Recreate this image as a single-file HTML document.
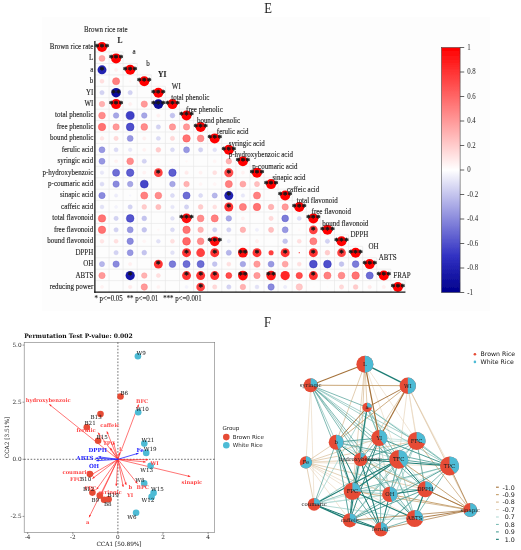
<!DOCTYPE html>
<html lang="en"><head><meta charset="utf-8"><title>Figure E F</title>
<style>html,body{margin:0;padding:0;background:#fff}svg{display:block}</style></head>
<body>
<svg width="521" height="550" viewBox="0 0 521 550">
<defs><filter id="bl" x="-2%" y="-2%" width="104%" height="104%"><feGaussianBlur stdDeviation="0.42"/></filter><filter id="bl2" x="-2%" y="-2%" width="104%" height="104%"><feGaussianBlur stdDeviation="0.28"/></filter></defs>
<rect x="0" y="0" width="521" height="550" fill="#fff"/>
<rect x="42" y="17" width="448" height="294" fill="#fdfdfd"/>
<g id="matrix" filter="url(#bl)">
<path d="M94.95 40.58H109.05 M94.95 52.01H123.14 M94.95 63.44H137.22 M94.95 74.88H151.31 M94.95 86.30H165.41 M94.95 97.73H179.50 M94.95 109.16H193.58 M94.95 120.59H207.68 M94.95 132.02H221.76 M94.95 143.45H235.86 M94.95 154.88H249.94 M94.95 166.31H264.04 M94.95 177.75H278.12 M94.95 189.18H292.21 M94.95 200.60H306.31 M94.95 212.03H320.39 M94.95 223.46H334.49 M94.95 234.89H348.57 M94.95 246.32H362.67 M94.95 257.75H376.75 M94.95 269.19H390.85 M94.95 280.62H404.94 M109.05 40.58V292.04 M123.13 52.01V292.04 M137.22 63.44V292.04 M151.31 74.88V292.04 M165.41 86.30V292.04 M179.50 97.73V292.04 M193.58 109.16V292.04 M207.68 120.59V292.04 M221.76 132.02V292.04 M235.86 143.45V292.04 M249.94 154.88V292.04 M264.03 166.31V292.04 M278.12 177.75V292.04 M292.21 189.18V292.04 M306.31 200.60V292.04 M320.39 212.03V292.04 M334.49 223.46V292.04 M348.57 234.89V292.04 M362.66 246.32V292.04 M376.75 257.75V292.04 M390.84 269.19V292.04 M404.94 280.62V292.04" stroke="#e6e6e6" stroke-width="0.6" fill="none"/>
<circle cx="102.00" cy="46.95" r="5.00" fill="rgb(255,0,0)"/>
<circle cx="102.00" cy="58.38" r="2.96" fill="rgb(255,166,166)" stroke="rgb(255,143,143)" stroke-width="0.5"/>
<circle cx="116.09" cy="58.38" r="5.00" fill="rgb(255,0,0)"/>
<circle cx="102.00" cy="69.81" r="4.47" fill="rgb(33,33,177)"/>
<circle cx="116.09" cy="69.81" r="1.64" fill="rgb(255,240,240)" stroke="rgb(255,236,236)" stroke-width="0.5"/>
<circle cx="130.18" cy="69.81" r="5.00" fill="rgb(255,0,0)"/>
<circle cx="102.00" cy="81.24" r="1.97" fill="rgb(255,224,224)" stroke="rgb(255,217,217)" stroke-width="0.5"/>
<circle cx="116.09" cy="81.24" r="3.54" fill="rgb(255,128,128)" stroke="rgb(255,96,96)" stroke-width="0.5"/>
<circle cx="130.18" cy="81.24" r="0.87" fill="rgb(255,247,247)" stroke="rgb(255,245,245)" stroke-width="0.5"/>
<circle cx="144.27" cy="81.24" r="5.00" fill="rgb(255,0,0)"/>
<circle cx="102.00" cy="92.67" r="2.12" fill="rgb(211,211,242)" stroke="rgb(200,200,239)" stroke-width="0.5"/>
<circle cx="116.09" cy="92.67" r="4.74" fill="rgb(17,17,158)"/>
<circle cx="130.18" cy="92.67" r="2.12" fill="rgb(211,211,242)" stroke="rgb(200,200,239)" stroke-width="0.5"/>
<circle cx="158.36" cy="92.67" r="5.00" fill="rgb(255,0,0)"/>
<circle cx="102.00" cy="104.10" r="2.74" fill="rgb(255,178,178)" stroke="rgb(255,159,159)" stroke-width="0.5"/>
<circle cx="116.09" cy="104.10" r="5.00" fill="rgb(255,0,0)"/>
<circle cx="130.18" cy="104.10" r="1.64" fill="rgb(255,240,240)" stroke="rgb(255,236,236)" stroke-width="0.5"/>
<circle cx="144.27" cy="104.10" r="3.16" fill="rgb(255,153,153)" stroke="rgb(255,128,128)" stroke-width="0.5"/>
<circle cx="158.36" cy="104.10" r="4.87" fill="rgb(8,8,149)"/>
<circle cx="172.45" cy="104.10" r="5.00" fill="rgb(255,0,0)"/>
<circle cx="102.00" cy="115.53" r="3.35" fill="rgb(255,140,140)" stroke="rgb(255,112,112)" stroke-width="0.5"/>
<circle cx="116.09" cy="115.53" r="2.74" fill="rgb(167,167,229)" stroke="rgb(145,145,223)" stroke-width="0.5"/>
<circle cx="130.18" cy="115.53" r="4.03" fill="rgb(65,65,199)" stroke="rgb(31,31,174)" stroke-width="0.5"/>
<circle cx="144.27" cy="115.53" r="2.74" fill="rgb(167,167,229)" stroke="rgb(145,145,223)" stroke-width="0.5"/>
<circle cx="158.36" cy="115.53" r="1.64" fill="rgb(255,240,240)" stroke="rgb(255,236,236)" stroke-width="0.5"/>
<circle cx="172.45" cy="115.53" r="2.35" fill="rgb(196,196,238)" stroke="rgb(182,182,234)" stroke-width="0.5"/>
<circle cx="186.54" cy="115.53" r="5.00" fill="rgb(255,0,0)"/>
<circle cx="102.00" cy="126.96" r="3.71" fill="rgb(255,115,115)" stroke="rgb(255,80,80)" stroke-width="0.5"/>
<circle cx="116.09" cy="126.96" r="3.16" fill="rgb(255,153,153)" stroke="rgb(255,128,128)" stroke-width="0.5"/>
<circle cx="130.18" cy="126.96" r="3.87" fill="rgb(79,79,204)" stroke="rgb(42,42,186)" stroke-width="0.5"/>
<circle cx="144.27" cy="126.96" r="3.35" fill="rgb(255,140,140)" stroke="rgb(255,112,112)" stroke-width="0.5"/>
<circle cx="158.36" cy="126.96" r="2.12" fill="rgb(211,211,242)" stroke="rgb(200,200,239)" stroke-width="0.5"/>
<circle cx="172.45" cy="126.96" r="3.16" fill="rgb(255,153,153)" stroke="rgb(255,128,128)" stroke-width="0.5"/>
<circle cx="186.54" cy="126.96" r="3.16" fill="rgb(255,153,153)" stroke="rgb(255,128,128)" stroke-width="0.5"/>
<circle cx="200.63" cy="126.96" r="5.00" fill="rgb(255,0,0)"/>
<circle cx="102.00" cy="138.39" r="1.87" fill="rgb(255,230,230)" stroke="rgb(255,223,223)" stroke-width="0.5"/>
<circle cx="116.09" cy="138.39" r="2.12" fill="rgb(255,217,217)" stroke="rgb(255,207,207)" stroke-width="0.5"/>
<circle cx="130.18" cy="138.39" r="2.96" fill="rgb(152,152,225)" stroke="rgb(127,127,218)" stroke-width="0.5"/>
<circle cx="144.27" cy="138.39" r="1.64" fill="rgb(255,240,240)" stroke="rgb(255,236,236)" stroke-width="0.5"/>
<circle cx="158.36" cy="138.39" r="1.97" fill="rgb(220,220,245)" stroke="rgb(211,211,242)" stroke-width="0.5"/>
<circle cx="172.45" cy="138.39" r="2.12" fill="rgb(255,217,217)" stroke="rgb(255,207,207)" stroke-width="0.5"/>
<circle cx="186.54" cy="138.39" r="3.71" fill="rgb(255,115,115)" stroke="rgb(255,80,80)" stroke-width="0.5"/>
<circle cx="200.63" cy="138.39" r="3.35" fill="rgb(255,140,140)" stroke="rgb(255,112,112)" stroke-width="0.5"/>
<circle cx="214.72" cy="138.39" r="5.00" fill="rgb(255,0,0)"/>
<circle cx="102.00" cy="149.82" r="2.96" fill="rgb(152,152,225)" stroke="rgb(127,127,218)" stroke-width="0.5"/>
<circle cx="116.09" cy="149.82" r="1.97" fill="rgb(220,220,245)" stroke="rgb(211,211,242)" stroke-width="0.5"/>
<circle cx="130.18" cy="149.82" r="1.76" fill="rgb(232,232,248)" stroke="rgb(226,226,246)" stroke-width="0.5"/>
<circle cx="144.27" cy="149.82" r="1.58" fill="rgb(255,242,242)" stroke="rgb(255,239,239)" stroke-width="0.5"/>
<circle cx="158.36" cy="149.82" r="2.35" fill="rgb(255,204,204)" stroke="rgb(255,191,191)" stroke-width="0.5"/>
<circle cx="172.45" cy="149.82" r="1.97" fill="rgb(220,220,245)" stroke="rgb(211,211,242)" stroke-width="0.5"/>
<circle cx="186.54" cy="149.82" r="2.96" fill="rgb(152,152,225)" stroke="rgb(127,127,218)" stroke-width="0.5"/>
<circle cx="200.63" cy="149.82" r="2.12" fill="rgb(211,211,242)" stroke="rgb(200,200,239)" stroke-width="0.5"/>
<circle cx="214.72" cy="149.82" r="1.87" fill="rgb(226,226,246)" stroke="rgb(218,218,244)" stroke-width="0.5"/>
<circle cx="228.81" cy="149.82" r="5.00" fill="rgb(255,0,0)"/>
<circle cx="102.00" cy="161.25" r="2.96" fill="rgb(152,152,225)" stroke="rgb(127,127,218)" stroke-width="0.5"/>
<circle cx="116.09" cy="161.25" r="1.58" fill="rgb(255,242,242)" stroke="rgb(255,239,239)" stroke-width="0.5"/>
<circle cx="130.18" cy="161.25" r="3.35" fill="rgb(255,140,140)" stroke="rgb(255,112,112)" stroke-width="0.5"/>
<circle cx="144.27" cy="161.25" r="2.12" fill="rgb(211,211,242)" stroke="rgb(200,200,239)" stroke-width="0.5"/>
<circle cx="158.36" cy="161.25" r="0.87" fill="rgb(255,247,247)" stroke="rgb(255,245,245)" stroke-width="0.5"/>
<circle cx="172.45" cy="161.25" r="0.87" fill="rgb(255,247,247)" stroke="rgb(255,245,245)" stroke-width="0.5"/>
<circle cx="186.54" cy="161.25" r="0.87" fill="rgb(255,247,247)" stroke="rgb(255,245,245)" stroke-width="0.5"/>
<circle cx="214.72" cy="161.25" r="1.52" fill="rgb(255,245,245)" stroke="rgb(255,242,242)" stroke-width="0.5"/>
<circle cx="228.81" cy="161.25" r="2.74" fill="rgb(255,178,178)" stroke="rgb(255,159,159)" stroke-width="0.5"/>
<circle cx="242.90" cy="161.25" r="5.00" fill="rgb(255,0,0)"/>
<circle cx="102.00" cy="172.68" r="1.76" fill="rgb(232,232,248)" stroke="rgb(226,226,246)" stroke-width="0.5"/>
<circle cx="116.09" cy="172.68" r="3.54" fill="rgb(109,109,212)" stroke="rgb(72,72,201)" stroke-width="0.5"/>
<circle cx="130.18" cy="172.68" r="3.71" fill="rgb(94,94,208)" stroke="rgb(54,54,196)" stroke-width="0.5"/>
<circle cx="144.27" cy="172.68" r="1.58" fill="rgb(255,242,242)" stroke="rgb(255,239,239)" stroke-width="0.5"/>
<circle cx="158.36" cy="172.68" r="4.33" fill="rgb(255,64,64)"/>
<circle cx="172.45" cy="172.68" r="3.71" fill="rgb(94,94,208)" stroke="rgb(54,54,196)" stroke-width="0.5"/>
<circle cx="186.54" cy="172.68" r="1.76" fill="rgb(255,235,235)" stroke="rgb(255,230,230)" stroke-width="0.5"/>
<circle cx="200.63" cy="172.68" r="1.58" fill="rgb(255,242,242)" stroke="rgb(255,239,239)" stroke-width="0.5"/>
<circle cx="214.72" cy="172.68" r="1.97" fill="rgb(255,224,224)" stroke="rgb(255,217,217)" stroke-width="0.5"/>
<circle cx="228.81" cy="172.68" r="4.18" fill="rgb(255,77,77)" stroke="rgb(255,32,32)" stroke-width="0.5"/>
<circle cx="242.90" cy="172.68" r="1.58" fill="rgb(255,242,242)" stroke="rgb(255,239,239)" stroke-width="0.5"/>
<circle cx="256.99" cy="172.68" r="5.00" fill="rgb(255,0,0)"/>
<circle cx="102.00" cy="184.11" r="1.97" fill="rgb(220,220,245)" stroke="rgb(211,211,242)" stroke-width="0.5"/>
<circle cx="116.09" cy="184.11" r="3.16" fill="rgb(138,138,221)" stroke="rgb(109,109,212)" stroke-width="0.5"/>
<circle cx="130.18" cy="184.11" r="2.74" fill="rgb(167,167,229)" stroke="rgb(145,145,223)" stroke-width="0.5"/>
<circle cx="144.27" cy="184.11" r="3.97" fill="rgb(70,70,201)" stroke="rgb(35,35,179)" stroke-width="0.5"/>
<circle cx="172.45" cy="184.11" r="2.74" fill="rgb(167,167,229)" stroke="rgb(145,145,223)" stroke-width="0.5"/>
<circle cx="186.54" cy="184.11" r="2.74" fill="rgb(255,178,178)" stroke="rgb(255,159,159)" stroke-width="0.5"/>
<circle cx="200.63" cy="184.11" r="1.52" fill="rgb(255,245,245)" stroke="rgb(255,242,242)" stroke-width="0.5"/>
<circle cx="214.72" cy="184.11" r="1.52" fill="rgb(255,245,245)" stroke="rgb(255,242,242)" stroke-width="0.5"/>
<circle cx="228.81" cy="184.11" r="3.54" fill="rgb(255,128,128)" stroke="rgb(255,96,96)" stroke-width="0.5"/>
<circle cx="242.90" cy="184.11" r="2.96" fill="rgb(255,166,166)" stroke="rgb(255,143,143)" stroke-width="0.5"/>
<circle cx="256.99" cy="184.11" r="2.55" fill="rgb(255,191,191)" stroke="rgb(255,175,175)" stroke-width="0.5"/>
<circle cx="271.08" cy="184.11" r="5.00" fill="rgb(255,0,0)"/>
<circle cx="102.00" cy="195.54" r="3.16" fill="rgb(138,138,221)" stroke="rgb(109,109,212)" stroke-width="0.5"/>
<circle cx="116.09" cy="195.54" r="1.64" fill="rgb(237,237,250)" stroke="rgb(233,233,249)" stroke-width="0.5"/>
<circle cx="130.18" cy="195.54" r="0.87" fill="rgb(246,246,252)" stroke="rgb(244,244,252)" stroke-width="0.5"/>
<circle cx="144.27" cy="195.54" r="3.54" fill="rgb(255,128,128)" stroke="rgb(255,96,96)" stroke-width="0.5"/>
<circle cx="158.36" cy="195.54" r="3.35" fill="rgb(255,140,140)" stroke="rgb(255,112,112)" stroke-width="0.5"/>
<circle cx="172.45" cy="195.54" r="1.97" fill="rgb(220,220,245)" stroke="rgb(211,211,242)" stroke-width="0.5"/>
<circle cx="186.54" cy="195.54" r="3.54" fill="rgb(109,109,212)" stroke="rgb(72,72,201)" stroke-width="0.5"/>
<circle cx="200.63" cy="195.54" r="1.97" fill="rgb(220,220,245)" stroke="rgb(211,211,242)" stroke-width="0.5"/>
<circle cx="214.72" cy="195.54" r="2.55" fill="rgb(182,182,234)" stroke="rgb(163,163,228)" stroke-width="0.5"/>
<circle cx="228.81" cy="195.54" r="4.47" fill="rgb(33,33,177)"/>
<circle cx="242.90" cy="195.54" r="1.76" fill="rgb(232,232,248)" stroke="rgb(226,226,246)" stroke-width="0.5"/>
<circle cx="256.99" cy="195.54" r="3.54" fill="rgb(255,128,128)" stroke="rgb(255,96,96)" stroke-width="0.5"/>
<circle cx="271.08" cy="195.54" r="0.71" fill="rgb(255,250,250)" stroke="rgb(255,249,249)" stroke-width="0.5"/>
<circle cx="285.17" cy="195.54" r="5.00" fill="rgb(255,0,0)"/>
<circle cx="102.00" cy="206.97" r="1.87" fill="rgb(226,226,246)" stroke="rgb(218,218,244)" stroke-width="0.5"/>
<circle cx="116.09" cy="206.97" r="1.52" fill="rgb(243,243,252)" stroke="rgb(240,240,251)" stroke-width="0.5"/>
<circle cx="130.18" cy="206.97" r="2.12" fill="rgb(211,211,242)" stroke="rgb(200,200,239)" stroke-width="0.5"/>
<circle cx="144.27" cy="206.97" r="2.35" fill="rgb(255,204,204)" stroke="rgb(255,191,191)" stroke-width="0.5"/>
<circle cx="158.36" cy="206.97" r="2.55" fill="rgb(255,191,191)" stroke="rgb(255,175,175)" stroke-width="0.5"/>
<circle cx="172.45" cy="206.97" r="1.76" fill="rgb(232,232,248)" stroke="rgb(226,226,246)" stroke-width="0.5"/>
<circle cx="186.54" cy="206.97" r="2.12" fill="rgb(211,211,242)" stroke="rgb(200,200,239)" stroke-width="0.5"/>
<circle cx="200.63" cy="206.97" r="2.35" fill="rgb(255,204,204)" stroke="rgb(255,191,191)" stroke-width="0.5"/>
<circle cx="214.72" cy="206.97" r="1.97" fill="rgb(255,224,224)" stroke="rgb(255,217,217)" stroke-width="0.5"/>
<circle cx="228.81" cy="206.97" r="4.47" fill="rgb(255,51,51)"/>
<circle cx="242.90" cy="206.97" r="3.54" fill="rgb(255,128,128)" stroke="rgb(255,96,96)" stroke-width="0.5"/>
<circle cx="256.99" cy="206.97" r="3.71" fill="rgb(255,115,115)" stroke="rgb(255,80,80)" stroke-width="0.5"/>
<circle cx="271.08" cy="206.97" r="2.74" fill="rgb(255,178,178)" stroke="rgb(255,159,159)" stroke-width="0.5"/>
<circle cx="285.17" cy="206.97" r="3.16" fill="rgb(255,153,153)" stroke="rgb(255,128,128)" stroke-width="0.5"/>
<circle cx="299.26" cy="206.97" r="5.00" fill="rgb(255,0,0)"/>
<circle cx="102.00" cy="218.40" r="3.71" fill="rgb(255,115,115)" stroke="rgb(255,80,80)" stroke-width="0.5"/>
<circle cx="116.09" cy="218.40" r="2.12" fill="rgb(211,211,242)" stroke="rgb(200,200,239)" stroke-width="0.5"/>
<circle cx="130.18" cy="218.40" r="3.81" fill="rgb(85,85,205)" stroke="rgb(46,46,190)" stroke-width="0.5"/>
<circle cx="144.27" cy="218.40" r="2.35" fill="rgb(196,196,238)" stroke="rgb(182,182,234)" stroke-width="0.5"/>
<circle cx="172.45" cy="218.40" r="1.87" fill="rgb(226,226,246)" stroke="rgb(218,218,244)" stroke-width="0.5"/>
<circle cx="186.54" cy="218.40" r="4.87" fill="rgb(255,13,13)"/>
<circle cx="200.63" cy="218.40" r="3.35" fill="rgb(255,140,140)" stroke="rgb(255,112,112)" stroke-width="0.5"/>
<circle cx="214.72" cy="218.40" r="3.54" fill="rgb(255,128,128)" stroke="rgb(255,96,96)" stroke-width="0.5"/>
<circle cx="228.81" cy="218.40" r="2.74" fill="rgb(167,167,229)" stroke="rgb(145,145,223)" stroke-width="0.5"/>
<circle cx="242.90" cy="218.40" r="1.58" fill="rgb(255,242,242)" stroke="rgb(255,239,239)" stroke-width="0.5"/>
<circle cx="271.08" cy="218.40" r="2.12" fill="rgb(255,217,217)" stroke="rgb(255,207,207)" stroke-width="0.5"/>
<circle cx="285.17" cy="218.40" r="3.35" fill="rgb(123,123,216)" stroke="rgb(90,90,207)" stroke-width="0.5"/>
<circle cx="299.26" cy="218.40" r="1.97" fill="rgb(220,220,245)" stroke="rgb(211,211,242)" stroke-width="0.5"/>
<circle cx="313.35" cy="218.40" r="5.00" fill="rgb(255,0,0)"/>
<circle cx="102.00" cy="229.83" r="3.71" fill="rgb(255,115,115)" stroke="rgb(255,80,80)" stroke-width="0.5"/>
<circle cx="116.09" cy="229.83" r="2.12" fill="rgb(211,211,242)" stroke="rgb(200,200,239)" stroke-width="0.5"/>
<circle cx="130.18" cy="229.83" r="2.96" fill="rgb(152,152,225)" stroke="rgb(127,127,218)" stroke-width="0.5"/>
<circle cx="144.27" cy="229.83" r="2.35" fill="rgb(196,196,238)" stroke="rgb(182,182,234)" stroke-width="0.5"/>
<circle cx="158.36" cy="229.83" r="0.87" fill="rgb(255,247,247)" stroke="rgb(255,245,245)" stroke-width="0.5"/>
<circle cx="172.45" cy="229.83" r="1.97" fill="rgb(220,220,245)" stroke="rgb(211,211,242)" stroke-width="0.5"/>
<circle cx="186.54" cy="229.83" r="3.71" fill="rgb(255,115,115)" stroke="rgb(255,80,80)" stroke-width="0.5"/>
<circle cx="200.63" cy="229.83" r="2.74" fill="rgb(255,178,178)" stroke="rgb(255,159,159)" stroke-width="0.5"/>
<circle cx="214.72" cy="229.83" r="2.12" fill="rgb(211,211,242)" stroke="rgb(200,200,239)" stroke-width="0.5"/>
<circle cx="228.81" cy="229.83" r="2.12" fill="rgb(211,211,242)" stroke="rgb(200,200,239)" stroke-width="0.5"/>
<circle cx="242.90" cy="229.83" r="2.74" fill="rgb(255,178,178)" stroke="rgb(255,159,159)" stroke-width="0.5"/>
<circle cx="256.99" cy="229.83" r="1.58" fill="rgb(240,240,251)" stroke="rgb(237,237,250)" stroke-width="0.5"/>
<circle cx="271.08" cy="229.83" r="2.55" fill="rgb(255,191,191)" stroke="rgb(255,175,175)" stroke-width="0.5"/>
<circle cx="285.17" cy="229.83" r="2.96" fill="rgb(152,152,225)" stroke="rgb(127,127,218)" stroke-width="0.5"/>
<circle cx="299.26" cy="229.83" r="0.87" fill="rgb(255,247,247)" stroke="rgb(255,245,245)" stroke-width="0.5"/>
<circle cx="313.35" cy="229.83" r="4.33" fill="rgb(255,64,64)"/>
<circle cx="327.44" cy="229.83" r="5.00" fill="rgb(255,0,0)"/>
<circle cx="102.00" cy="241.26" r="1.87" fill="rgb(255,230,230)" stroke="rgb(255,223,223)" stroke-width="0.5"/>
<circle cx="116.09" cy="241.26" r="1.97" fill="rgb(255,224,224)" stroke="rgb(255,217,217)" stroke-width="0.5"/>
<circle cx="130.18" cy="241.26" r="3.16" fill="rgb(138,138,221)" stroke="rgb(109,109,212)" stroke-width="0.5"/>
<circle cx="144.27" cy="241.26" r="1.52" fill="rgb(255,245,245)" stroke="rgb(255,242,242)" stroke-width="0.5"/>
<circle cx="158.36" cy="241.26" r="1.87" fill="rgb(226,226,246)" stroke="rgb(218,218,244)" stroke-width="0.5"/>
<circle cx="172.45" cy="241.26" r="1.97" fill="rgb(255,224,224)" stroke="rgb(255,217,217)" stroke-width="0.5"/>
<circle cx="186.54" cy="241.26" r="3.87" fill="rgb(255,102,102)" stroke="rgb(255,64,64)" stroke-width="0.5"/>
<circle cx="200.63" cy="241.26" r="3.35" fill="rgb(255,140,140)" stroke="rgb(255,112,112)" stroke-width="0.5"/>
<circle cx="214.72" cy="241.26" r="4.87" fill="rgb(255,13,13)"/>
<circle cx="228.81" cy="241.26" r="1.64" fill="rgb(237,237,250)" stroke="rgb(233,233,249)" stroke-width="0.5"/>
<circle cx="256.99" cy="241.26" r="1.64" fill="rgb(255,240,240)" stroke="rgb(255,236,236)" stroke-width="0.5"/>
<circle cx="285.17" cy="241.26" r="2.35" fill="rgb(196,196,238)" stroke="rgb(182,182,234)" stroke-width="0.5"/>
<circle cx="299.26" cy="241.26" r="1.97" fill="rgb(255,224,224)" stroke="rgb(255,217,217)" stroke-width="0.5"/>
<circle cx="313.35" cy="241.26" r="3.54" fill="rgb(255,128,128)" stroke="rgb(255,96,96)" stroke-width="0.5"/>
<circle cx="327.44" cy="241.26" r="2.12" fill="rgb(211,211,242)" stroke="rgb(200,200,239)" stroke-width="0.5"/>
<circle cx="341.53" cy="241.26" r="5.00" fill="rgb(255,0,0)"/>
<circle cx="116.09" cy="252.69" r="2.12" fill="rgb(211,211,242)" stroke="rgb(200,200,239)" stroke-width="0.5"/>
<circle cx="130.18" cy="252.69" r="2.96" fill="rgb(152,152,225)" stroke="rgb(127,127,218)" stroke-width="0.5"/>
<circle cx="144.27" cy="252.69" r="2.35" fill="rgb(196,196,238)" stroke="rgb(182,182,234)" stroke-width="0.5"/>
<circle cx="172.45" cy="252.69" r="1.87" fill="rgb(226,226,246)" stroke="rgb(218,218,244)" stroke-width="0.5"/>
<circle cx="186.54" cy="252.69" r="4.47" fill="rgb(255,51,51)"/>
<circle cx="200.63" cy="252.69" r="4.33" fill="rgb(255,64,64)"/>
<circle cx="214.72" cy="252.69" r="4.47" fill="rgb(255,51,51)"/>
<circle cx="228.81" cy="252.69" r="2.55" fill="rgb(182,182,234)" stroke="rgb(163,163,228)" stroke-width="0.5"/>
<circle cx="242.90" cy="252.69" r="4.87" fill="rgb(255,13,13)"/>
<circle cx="256.99" cy="252.69" r="4.47" fill="rgb(255,51,51)"/>
<circle cx="271.08" cy="252.69" r="2.55" fill="rgb(255,64,64)"/>
<circle cx="285.17" cy="252.69" r="4.47" fill="rgb(255,51,51)"/>
<circle cx="299.26" cy="252.69" r="0.61" fill="rgb(255,51,51)"/>
<circle cx="313.35" cy="252.69" r="4.47" fill="rgb(255,51,51)"/>
<circle cx="327.44" cy="252.69" r="2.35" fill="rgb(255,204,204)" stroke="rgb(255,191,191)" stroke-width="0.5"/>
<circle cx="341.53" cy="252.69" r="4.33" fill="rgb(255,64,64)"/>
<circle cx="355.62" cy="252.69" r="5.00" fill="rgb(255,0,0)"/>
<circle cx="102.00" cy="264.12" r="2.55" fill="rgb(182,182,234)" stroke="rgb(163,163,228)" stroke-width="0.5"/>
<circle cx="116.09" cy="264.12" r="3.16" fill="rgb(138,138,221)" stroke="rgb(109,109,212)" stroke-width="0.5"/>
<circle cx="130.18" cy="264.12" r="1.64" fill="rgb(255,240,240)" stroke="rgb(255,236,236)" stroke-width="0.5"/>
<circle cx="158.36" cy="264.12" r="4.47" fill="rgb(255,51,51)"/>
<circle cx="172.45" cy="264.12" r="3.35" fill="rgb(123,123,216)" stroke="rgb(90,90,207)" stroke-width="0.5"/>
<circle cx="186.54" cy="264.12" r="3.54" fill="rgb(109,109,212)" stroke="rgb(72,72,201)" stroke-width="0.5"/>
<circle cx="200.63" cy="264.12" r="3.54" fill="rgb(109,109,212)" stroke="rgb(72,72,201)" stroke-width="0.5"/>
<circle cx="214.72" cy="264.12" r="2.35" fill="rgb(196,196,238)" stroke="rgb(182,182,234)" stroke-width="0.5"/>
<circle cx="228.81" cy="264.12" r="1.97" fill="rgb(255,224,224)" stroke="rgb(255,217,217)" stroke-width="0.5"/>
<circle cx="242.90" cy="264.12" r="2.74" fill="rgb(167,167,229)" stroke="rgb(145,145,223)" stroke-width="0.5"/>
<circle cx="256.99" cy="264.12" r="3.16" fill="rgb(255,153,153)" stroke="rgb(255,128,128)" stroke-width="0.5"/>
<circle cx="271.08" cy="264.12" r="2.96" fill="rgb(152,152,225)" stroke="rgb(127,127,218)" stroke-width="0.5"/>
<circle cx="285.17" cy="264.12" r="2.96" fill="rgb(255,166,166)" stroke="rgb(255,143,143)" stroke-width="0.5"/>
<circle cx="299.26" cy="264.12" r="1.97" fill="rgb(255,224,224)" stroke="rgb(255,217,217)" stroke-width="0.5"/>
<circle cx="313.35" cy="264.12" r="3.87" fill="rgb(79,79,204)" stroke="rgb(42,42,186)" stroke-width="0.5"/>
<circle cx="327.44" cy="264.12" r="3.87" fill="rgb(79,79,204)" stroke="rgb(42,42,186)" stroke-width="0.5"/>
<circle cx="341.53" cy="264.12" r="2.35" fill="rgb(196,196,238)" stroke="rgb(182,182,234)" stroke-width="0.5"/>
<circle cx="355.62" cy="264.12" r="3.35" fill="rgb(123,123,216)" stroke="rgb(90,90,207)" stroke-width="0.5"/>
<circle cx="369.71" cy="264.12" r="5.00" fill="rgb(255,0,0)"/>
<circle cx="102.00" cy="275.55" r="3.16" fill="rgb(255,153,153)" stroke="rgb(255,128,128)" stroke-width="0.5"/>
<circle cx="130.18" cy="275.55" r="4.61" fill="rgb(25,25,168)"/>
<circle cx="144.27" cy="275.55" r="2.74" fill="rgb(255,178,178)" stroke="rgb(255,159,159)" stroke-width="0.5"/>
<circle cx="158.36" cy="275.55" r="1.97" fill="rgb(255,224,224)" stroke="rgb(255,217,217)" stroke-width="0.5"/>
<circle cx="186.54" cy="275.55" r="4.47" fill="rgb(255,51,51)"/>
<circle cx="200.63" cy="275.55" r="4.47" fill="rgb(255,51,51)"/>
<circle cx="214.72" cy="275.55" r="4.47" fill="rgb(255,51,51)"/>
<circle cx="228.81" cy="275.55" r="2.96" fill="rgb(255,77,77)" stroke="rgb(255,32,32)" stroke-width="0.5"/>
<circle cx="242.90" cy="275.55" r="4.87" fill="rgb(255,13,13)"/>
<circle cx="256.99" cy="275.55" r="3.16" fill="rgb(255,153,153)" stroke="rgb(255,128,128)" stroke-width="0.5"/>
<circle cx="271.08" cy="275.55" r="4.74" fill="rgb(255,25,25)"/>
<circle cx="285.17" cy="275.55" r="4.61" fill="rgb(255,38,38)"/>
<circle cx="299.26" cy="275.55" r="3.16" fill="rgb(255,77,77)" stroke="rgb(255,32,32)" stroke-width="0.5"/>
<circle cx="313.35" cy="275.55" r="4.47" fill="rgb(255,51,51)"/>
<circle cx="327.44" cy="275.55" r="3.54" fill="rgb(255,128,128)" stroke="rgb(255,96,96)" stroke-width="0.5"/>
<circle cx="341.53" cy="275.55" r="3.35" fill="rgb(255,140,140)" stroke="rgb(255,112,112)" stroke-width="0.5"/>
<circle cx="355.62" cy="275.55" r="3.71" fill="rgb(255,115,115)" stroke="rgb(255,80,80)" stroke-width="0.5"/>
<circle cx="369.71" cy="275.55" r="3.54" fill="rgb(109,109,212)" stroke="rgb(72,72,201)" stroke-width="0.5"/>
<circle cx="383.80" cy="275.55" r="5.00" fill="rgb(255,0,0)"/>
<circle cx="102.00" cy="286.98" r="1.58" fill="rgb(255,242,242)" stroke="rgb(255,239,239)" stroke-width="0.5"/>
<circle cx="130.18" cy="286.98" r="1.76" fill="rgb(255,235,235)" stroke="rgb(255,230,230)" stroke-width="0.5"/>
<circle cx="144.27" cy="286.98" r="3.16" fill="rgb(255,153,153)" stroke="rgb(255,128,128)" stroke-width="0.5"/>
<circle cx="158.36" cy="286.98" r="1.58" fill="rgb(255,242,242)" stroke="rgb(255,239,239)" stroke-width="0.5"/>
<circle cx="186.54" cy="286.98" r="1.52" fill="rgb(243,243,252)" stroke="rgb(240,240,251)" stroke-width="0.5"/>
<circle cx="200.63" cy="286.98" r="4.33" fill="rgb(255,64,64)"/>
<circle cx="214.72" cy="286.98" r="2.12" fill="rgb(255,217,217)" stroke="rgb(255,207,207)" stroke-width="0.5"/>
<circle cx="228.81" cy="286.98" r="2.12" fill="rgb(211,211,242)" stroke="rgb(200,200,239)" stroke-width="0.5"/>
<circle cx="242.90" cy="286.98" r="2.74" fill="rgb(255,178,178)" stroke="rgb(255,159,159)" stroke-width="0.5"/>
<circle cx="256.99" cy="286.98" r="1.87" fill="rgb(226,226,246)" stroke="rgb(218,218,244)" stroke-width="0.5"/>
<circle cx="271.08" cy="286.98" r="3.16" fill="rgb(138,138,221)" stroke="rgb(109,109,212)" stroke-width="0.5"/>
<circle cx="285.17" cy="286.98" r="1.64" fill="rgb(237,237,250)" stroke="rgb(233,233,249)" stroke-width="0.5"/>
<circle cx="299.26" cy="286.98" r="3.16" fill="rgb(255,199,199)" stroke="rgb(255,185,185)" stroke-width="0.5"/>
<circle cx="313.35" cy="286.98" r="0.71" fill="rgb(255,250,250)" stroke="rgb(255,249,249)" stroke-width="0.5"/>
<circle cx="327.44" cy="286.98" r="0.71" fill="rgb(255,250,250)" stroke="rgb(255,249,249)" stroke-width="0.5"/>
<circle cx="341.53" cy="286.98" r="2.12" fill="rgb(255,217,217)" stroke="rgb(255,207,207)" stroke-width="0.5"/>
<circle cx="355.62" cy="286.98" r="2.35" fill="rgb(255,204,204)" stroke="rgb(255,191,191)" stroke-width="0.5"/>
<circle cx="369.71" cy="286.98" r="1.76" fill="rgb(255,235,235)" stroke="rgb(255,230,230)" stroke-width="0.5"/>
<circle cx="383.80" cy="286.98" r="1.64" fill="rgb(255,240,240)" stroke="rgb(255,236,236)" stroke-width="0.5"/>
<circle cx="397.89" cy="286.98" r="5.00" fill="rgb(255,0,0)"/>
<g font-family="'Liberation Serif', serif" font-size="9" font-weight="bold" fill="#161616" stroke="#161616" stroke-width="0.35" stroke-linejoin="round" text-anchor="middle">
<text x="102.22" y="49.85" letter-spacing="0.45">***</text>
<text x="116.31" y="61.28" letter-spacing="0.45">***</text>
<text x="102.00" y="72.71" letter-spacing="0">*</text>
<text x="130.41" y="72.71" letter-spacing="0.45">***</text>
<text x="144.49" y="84.14" letter-spacing="0.45">***</text>
<text x="116.31" y="95.57" letter-spacing="0.45">**</text>
<text x="158.59" y="95.57" letter-spacing="0.45">***</text>
<text x="116.31" y="107.00" letter-spacing="0.45">***</text>
<text x="158.59" y="107.00" letter-spacing="0.45">***</text>
<text x="172.67" y="107.00" letter-spacing="0.45">***</text>
<text x="186.76" y="118.43" letter-spacing="0.45">***</text>
<text x="200.85" y="129.86" letter-spacing="0.45">***</text>
<text x="214.94" y="141.29" letter-spacing="0.45">***</text>
<text x="229.03" y="152.72" letter-spacing="0.45">***</text>
<text x="243.12" y="164.15" letter-spacing="0.45">***</text>
<text x="158.36" y="175.58" letter-spacing="0">*</text>
<text x="228.81" y="175.58" letter-spacing="0">*</text>
<text x="257.22" y="175.58" letter-spacing="0.45">***</text>
<text x="271.31" y="187.01" letter-spacing="0.45">***</text>
<text x="228.81" y="198.44" letter-spacing="0">*</text>
<text x="285.39" y="198.44" letter-spacing="0.45">***</text>
<text x="228.81" y="209.87" letter-spacing="0">*</text>
<text x="299.49" y="209.87" letter-spacing="0.45">***</text>
<text x="186.76" y="221.30" letter-spacing="0.45">***</text>
<text x="313.58" y="221.30" letter-spacing="0.45">***</text>
<text x="313.35" y="232.73" letter-spacing="0">*</text>
<text x="327.67" y="232.73" letter-spacing="0.45">***</text>
<text x="214.94" y="244.16" letter-spacing="0.45">***</text>
<text x="341.75" y="244.16" letter-spacing="0.45">***</text>
<text x="186.54" y="255.59" letter-spacing="0">*</text>
<text x="214.72" y="255.59" letter-spacing="0">*</text>
<text x="243.12" y="255.59" letter-spacing="0.45">**</text>
<text x="256.99" y="255.59" letter-spacing="0">*</text>
<text x="285.17" y="255.59" letter-spacing="0">*</text>
<text x="313.35" y="255.59" letter-spacing="0">*</text>
<text x="341.53" y="255.59" letter-spacing="0">*</text>
<text x="355.85" y="255.59" letter-spacing="0.45">***</text>
<text x="158.36" y="267.02" letter-spacing="0">*</text>
<text x="369.94" y="267.02" letter-spacing="0.45">***</text>
<text x="130.18" y="278.45" letter-spacing="0">*</text>
<text x="186.54" y="278.45" letter-spacing="0">*</text>
<text x="200.63" y="278.45" letter-spacing="0">*</text>
<text x="214.72" y="278.45" letter-spacing="0">*</text>
<text x="243.12" y="278.45" letter-spacing="0.45">**</text>
<text x="271.31" y="278.45" letter-spacing="0.45">**</text>
<text x="313.35" y="278.45" letter-spacing="0">*</text>
<text x="384.03" y="278.45" letter-spacing="0.45">***</text>
<text x="200.63" y="289.88" letter-spacing="0">*</text>
<text x="398.12" y="289.88" letter-spacing="0.45">***</text>
</g>
<path d="M94.86 41V292.74" stroke="#2a2a2a" stroke-width="1.4" fill="none"/>
<path d="M94.16 292.04H405.44" stroke="#111" stroke-width="1.3" fill="none"/>
<g font-family="'Liberation Serif', serif" fill="#222" stroke="#222" stroke-width="0.12">
<text transform="translate(93.30,48.90) scale(0.875,1)" text-anchor="end" font-size="8.0">Brown rice rate</text>
<text transform="translate(93.30,60.33) scale(0.875,1)" text-anchor="end" font-size="8.0">L</text>
<text transform="translate(93.30,71.76) scale(0.875,1)" text-anchor="end" font-size="8.0">a</text>
<text transform="translate(93.30,83.19) scale(0.875,1)" text-anchor="end" font-size="8.0">b</text>
<text transform="translate(93.30,94.62) scale(0.875,1)" text-anchor="end" font-size="8.0">YI</text>
<text transform="translate(93.30,106.05) scale(0.875,1)" text-anchor="end" font-size="8.0">WI</text>
<text transform="translate(93.30,117.48) scale(0.875,1)" text-anchor="end" font-size="8.0">total phenolic</text>
<text transform="translate(93.30,128.91) scale(0.875,1)" text-anchor="end" font-size="8.0">free phenolic</text>
<text transform="translate(93.30,140.34) scale(0.875,1)" text-anchor="end" font-size="8.0">bound phenolic</text>
<text transform="translate(93.30,151.77) scale(0.875,1)" text-anchor="end" font-size="8.0">ferulic acid</text>
<text transform="translate(93.30,163.20) scale(0.875,1)" text-anchor="end" font-size="8.0">syringic acid</text>
<text transform="translate(93.30,174.63) scale(0.875,1)" text-anchor="end" font-size="8.0">p-hydroxybenzoic</text>
<text transform="translate(93.30,186.06) scale(0.875,1)" text-anchor="end" font-size="8.0">p-coumaric acid</text>
<text transform="translate(93.30,197.49) scale(0.875,1)" text-anchor="end" font-size="8.0">sinapic acid</text>
<text transform="translate(93.30,208.92) scale(0.875,1)" text-anchor="end" font-size="8.0">caffeic acid</text>
<text transform="translate(93.30,220.35) scale(0.875,1)" text-anchor="end" font-size="8.0">total flavonoid</text>
<text transform="translate(93.30,231.78) scale(0.875,1)" text-anchor="end" font-size="8.0">free flavonoid</text>
<text transform="translate(93.30,243.21) scale(0.875,1)" text-anchor="end" font-size="8.0">bound flavonoid</text>
<text transform="translate(93.30,254.64) scale(0.875,1)" text-anchor="end" font-size="8.0">DPPH</text>
<text transform="translate(93.30,266.07) scale(0.875,1)" text-anchor="end" font-size="8.0">OH</text>
<text transform="translate(93.30,277.50) scale(0.875,1)" text-anchor="end" font-size="8.0">ABTS</text>
<text transform="translate(93.30,288.93) scale(0.875,1)" text-anchor="end" font-size="8.0">reducing power</text>
<text transform="translate(105.80,31.50) scale(0.875,1)" text-anchor="middle" font-size="8.0">Brown rice rate</text>
<text transform="translate(119.89,42.93) scale(0.875,1)" text-anchor="middle" font-size="8.6" font-weight="bold">L</text>
<text transform="translate(133.98,54.36) scale(0.875,1)" text-anchor="middle" font-size="8.0">a</text>
<text transform="translate(148.07,65.79) scale(0.875,1)" text-anchor="middle" font-size="8.0">b</text>
<text transform="translate(162.16,77.22) scale(0.875,1)" text-anchor="middle" font-size="8.6" font-weight="bold">YI</text>
<text transform="translate(176.25,88.65) scale(0.875,1)" text-anchor="middle" font-size="8.0">WI</text>
<text transform="translate(190.34,100.08) scale(0.875,1)" text-anchor="middle" font-size="8.0">total phenolic</text>
<text transform="translate(204.43,111.51) scale(0.875,1)" text-anchor="middle" font-size="8.0">free phenolic</text>
<text transform="translate(218.52,122.94) scale(0.875,1)" text-anchor="middle" font-size="8.0">bound phenolic</text>
<text transform="translate(232.61,134.37) scale(0.875,1)" text-anchor="middle" font-size="8.0">ferulic acid</text>
<text transform="translate(246.70,145.80) scale(0.875,1)" text-anchor="middle" font-size="8.0">syringic acid</text>
<text transform="translate(260.79,157.23) scale(0.875,1)" text-anchor="middle" font-size="8.0">p-hydroxybenzoic acid</text>
<text transform="translate(274.88,168.66) scale(0.875,1)" text-anchor="middle" font-size="8.0">p-coumaric acid</text>
<text transform="translate(288.97,180.09) scale(0.875,1)" text-anchor="middle" font-size="8.0">sinapic acid</text>
<text transform="translate(303.06,191.52) scale(0.875,1)" text-anchor="middle" font-size="8.0">caffeic acid</text>
<text transform="translate(317.15,202.95) scale(0.875,1)" text-anchor="middle" font-size="8.0">total flavonoid</text>
<text transform="translate(331.24,214.38) scale(0.875,1)" text-anchor="middle" font-size="8.0">free flavonoid</text>
<text transform="translate(345.33,225.81) scale(0.875,1)" text-anchor="middle" font-size="8.0">bound flavonoid</text>
<text transform="translate(359.42,237.24) scale(0.875,1)" text-anchor="middle" font-size="8.0">DPPH</text>
<text transform="translate(373.51,248.67) scale(0.875,1)" text-anchor="middle" font-size="8.0">OH</text>
<text transform="translate(387.60,260.10) scale(0.875,1)" text-anchor="middle" font-size="8.0">ABTS</text>
<text transform="translate(402.00,277.80) scale(0.875,1)" text-anchor="middle" font-size="8.0">FRAP</text>
<text transform="translate(94.50,300.70) scale(0.875,1)" text-anchor="start" font-size="7.8">* p&lt;=0.05</text>
<text transform="translate(126.70,300.70) scale(0.875,1)" text-anchor="start" font-size="7.8">** p&lt;=0.01</text>
<text transform="translate(163.30,300.70) scale(0.875,1)" text-anchor="start" font-size="7.8">*** p&lt;=0.001</text>
</g>
<defs><linearGradient id="cb" x1="0" y1="0" x2="0" y2="1"><stop offset="0" stop-color="rgb(255,0,0)"/><stop offset="0.5" stop-color="#fff"/><stop offset="0.85" stop-color="rgb(50,50,195)"/><stop offset="1" stop-color="rgb(0,0,140)"/></linearGradient></defs>
<rect x="441.5" y="47.5" width="18.6" height="245" fill="url(#cb)" stroke="#333" stroke-width="0.5"/>
<g font-family="'Liberation Serif', serif" fill="#222">
<text transform="translate(467.20,49.95) scale(0.94,1)" text-anchor="start" font-size="7.3">1</text>
<text transform="translate(467.20,74.45) scale(0.94,1)" text-anchor="start" font-size="7.3">0.8</text>
<text transform="translate(467.20,98.95) scale(0.94,1)" text-anchor="start" font-size="7.3">0.6</text>
<text transform="translate(467.20,123.45) scale(0.94,1)" text-anchor="start" font-size="7.3">0.4</text>
<text transform="translate(467.20,147.95) scale(0.94,1)" text-anchor="start" font-size="7.3">0.2</text>
<text transform="translate(467.20,172.45) scale(0.94,1)" text-anchor="start" font-size="7.3">0</text>
<text transform="translate(467.20,196.95) scale(0.94,1)" text-anchor="start" font-size="7.3">-0.2</text>
<text transform="translate(467.20,221.45) scale(0.94,1)" text-anchor="start" font-size="7.3">-0.4</text>
<text transform="translate(467.20,245.95) scale(0.94,1)" text-anchor="start" font-size="7.3">-0.6</text>
<text transform="translate(467.20,270.45) scale(0.94,1)" text-anchor="start" font-size="7.3">-0.8</text>
<text transform="translate(467.20,294.95) scale(0.94,1)" text-anchor="start" font-size="7.3">-1</text>
</g>
<path d="M460.1 47.50H464.2 M460.1 72.00H464.2 M460.1 96.50H464.2 M460.1 121.00H464.2 M460.1 145.50H464.2 M460.1 170.00H464.2 M460.1 194.50H464.2 M460.1 219.00H464.2 M460.1 243.50H464.2 M460.1 268.00H464.2 M460.1 292.50H464.2" stroke="#222" stroke-width="0.7" fill="none"/>
</g>
<g font-family="'Liberation Serif', serif" fill="#222">
<text transform="translate(268.00,13.40) scale(0.87,1)" text-anchor="middle" font-size="14.5">E</text>
<text transform="translate(267.60,326.90) scale(0.87,1)" text-anchor="middle" font-size="14.5">F</text>
</g>
<g id="cca" filter="url(#bl2)">
<rect x="24.2" y="342.3" width="190.50" height="190.10" fill="#fff" stroke="#7a7a7a" stroke-width="0.6"/>
<path d="M24.2 459.3H214.7M117.9 342.3V532.4" stroke="#333" stroke-width="0.7" stroke-dasharray="1.6 1.6" fill="none"/>
<g font-family="'DejaVu Serif', serif" font-size="5.75" fill="#2e2e2e">
<text x="27.70" y="539.40" text-anchor="middle">-4</text>
<text x="72.80" y="539.40" text-anchor="middle">-2</text>
<text x="117.90" y="539.40" text-anchor="middle">0</text>
<text x="163.00" y="539.40" text-anchor="middle">2</text>
<text x="208.10" y="539.40" text-anchor="middle">4</text>
<text x="21.60" y="347.15" text-anchor="end">5.0</text>
<text x="21.60" y="404.25" text-anchor="end">2.5</text>
<text x="21.60" y="461.35" text-anchor="end">0.0</text>
<text x="21.60" y="518.45" text-anchor="end">-2.5</text>
</g>
<path d="M27.70 532.4v1.6 M72.80 532.4v1.6 M117.90 532.4v1.6 M163.00 532.4v1.6 M208.10 532.4v1.6 M24.2 345.10h-1.6 M24.2 402.20h-1.6 M24.2 459.30h-1.6 M24.2 516.40h-1.6" stroke="#333" stroke-width="0.5" fill="none"/>
<g font-family="'DejaVu Serif', serif" fill="#111">
<text x="24.2" y="338.1" font-size="6.06" font-weight="bold">Permutation Test P-value: 0.002</text>
<text x="119" y="546.2" font-size="5.8" text-anchor="middle">CCA1 [50.89%]</text>
<text transform="translate(9.2,437.5) rotate(-90)" font-size="5.8" text-anchor="middle">CCA2 [3.51%]</text>
</g>
<path d="M117.9 459.3L49.2 404.3" stroke="#ff2a2a" stroke-width="0.65" fill="none"/>
<path d="M49.2 404.3L51.7 405.0L50.4 406.6Z" fill="#ff2a2a"/>
<path d="M117.9 459.3L89.1 517.3" stroke="#ff2a2a" stroke-width="0.65" fill="none"/>
<path d="M89.1 517.3L89.2 514.7L91.1 515.6Z" fill="#ff2a2a"/>
<path d="M117.9 459.3L91.1 474.9" stroke="#ff2a2a" stroke-width="0.65" fill="none"/>
<path d="M91.1 474.9L92.6 472.8L93.7 474.6Z" fill="#ff2a2a"/>
<path d="M117.9 459.3L92.4 478.6" stroke="#ff2a2a" stroke-width="0.65" fill="none"/>
<path d="M92.4 478.6L93.7 476.3L94.9 478.0Z" fill="#ff2a2a"/>
<path d="M117.9 459.3L96.5 489.5" stroke="#ff2a2a" stroke-width="0.65" fill="none"/>
<path d="M96.5 489.5L97.0 487.0L98.7 488.2Z" fill="#ff2a2a"/>
<path d="M117.9 459.3L101.1 494.9" stroke="#ff2a2a" stroke-width="0.65" fill="none"/>
<path d="M101.1 494.9L101.2 492.3L103.1 493.2Z" fill="#ff2a2a"/>
<path d="M117.9 459.3L126.2 484.9" stroke="#ff2a2a" stroke-width="0.65" fill="none"/>
<path d="M126.2 484.9L124.5 483.0L126.5 482.3Z" fill="#ff2a2a"/>
<path d="M117.9 459.3L123.2 486.9" stroke="#ff2a2a" stroke-width="0.65" fill="none"/>
<path d="M123.2 486.9L121.7 484.8L123.8 484.4Z" fill="#ff2a2a"/>
<path d="M117.9 459.3L116.2 486.1" stroke="#ff2a2a" stroke-width="0.65" fill="none"/>
<path d="M116.2 486.1L115.3 483.7L117.4 483.8Z" fill="#ff2a2a"/>
<path d="M117.9 459.3L106.9 431.4" stroke="#ff2a2a" stroke-width="0.65" fill="none"/>
<path d="M106.9 431.4L108.8 433.2L106.8 434.0Z" fill="#ff2a2a"/>
<path d="M117.9 459.3L98.0 432.6" stroke="#ff2a2a" stroke-width="0.65" fill="none"/>
<path d="M98.0 432.6L100.3 433.9L98.6 435.1Z" fill="#ff2a2a"/>
<path d="M117.9 459.3L113.4 441.9" stroke="#ff2a2a" stroke-width="0.65" fill="none"/>
<path d="M113.4 441.9L115.0 443.9L113.0 444.5Z" fill="#ff2a2a"/>
<path d="M117.9 459.3L110.2 447.8" stroke="#ff2a2a" stroke-width="0.65" fill="none"/>
<path d="M110.2 447.8L112.4 449.2L110.6 450.4Z" fill="#ff2a2a"/>
<path d="M117.9 459.3L119.6 452.5" stroke="#ff2a2a" stroke-width="0.65" fill="none"/>
<path d="M119.6 452.5L120.1 455.1L118.0 454.5Z" fill="#ff2a2a"/>
<path d="M117.9 459.3L138.7 404.4" stroke="#ff2a2a" stroke-width="0.65" fill="none"/>
<path d="M138.7 404.4L138.9 407.0L136.9 406.2Z" fill="#ff2a2a"/>
<path d="M117.9 459.3L190.3 476.6" stroke="#ff2a2a" stroke-width="0.65" fill="none"/>
<path d="M190.3 476.6L187.7 477.1L188.2 475.0Z" fill="#ff2a2a"/>
<path d="M117.9 459.3L148.2 459.7" stroke="#ff2a2a" stroke-width="0.65" fill="none"/>
<path d="M148.2 459.7L145.8 460.7L145.8 458.6Z" fill="#ff2a2a"/>
<path d="M117.9 459.3L137.4 483.6" stroke="#ff2a2a" stroke-width="0.65" fill="none"/>
<path d="M137.4 483.6L135.1 482.4L136.7 481.1Z" fill="#ff2a2a"/>
<path d="M117.9 459.3L145.7 462.0" stroke="#ff2a2a" stroke-width="0.65" fill="none"/>
<path d="M145.7 462.0L143.2 462.8L143.4 460.7Z" fill="#ff2a2a"/>
<path d="M117.9 459.3L98.5 456.8" stroke="#2626ff" stroke-width="0.8" fill="none"/>
<path d="M98.5 456.8L101.0 456.1L100.7 458.2Z" fill="#2626ff"/>
<path d="M117.9 459.3L95.5 458.2" stroke="#2626ff" stroke-width="0.8" fill="none"/>
<path d="M95.5 458.2L97.9 457.3L97.8 459.4Z" fill="#2626ff"/>
<path d="M117.9 459.3L96.3 460.7" stroke="#2626ff" stroke-width="0.8" fill="none"/>
<path d="M96.3 460.7L98.6 459.5L98.7 461.6Z" fill="#2626ff"/>
<path d="M117.9 459.3L138.5 453.2" stroke="#2626ff" stroke-width="0.8" fill="none"/>
<path d="M138.5 453.2L136.5 454.9L135.9 452.9Z" fill="#2626ff"/>
<circle cx="86.8" cy="427.2" r="3.3" fill="#E64B35"/>
<circle cx="98.1" cy="440.7" r="3.3" fill="#E64B35"/>
<circle cx="100.5" cy="414.1" r="3.3" fill="#E64B35"/>
<circle cx="120.5" cy="396.5" r="3.3" fill="#E64B35"/>
<circle cx="89.9" cy="474.1" r="3.3" fill="#E64B35"/>
<circle cx="92.4" cy="492.6" r="3.3" fill="#E64B35"/>
<circle cx="99.8" cy="495.6" r="3.3" fill="#E64B35"/>
<circle cx="104.1" cy="499.8" r="3.3" fill="#E64B35"/>
<circle cx="108.6" cy="499.3" r="3.3" fill="#E64B35"/>
<circle cx="137.9" cy="356.2" r="3.3" fill="#4DBBD5"/>
<circle cx="138.2" cy="412.3" r="3.3" fill="#4DBBD5"/>
<circle cx="144.3" cy="443.6" r="3.3" fill="#4DBBD5"/>
<circle cx="146.2" cy="452.9" r="3.3" fill="#4DBBD5"/>
<circle cx="150.6" cy="465.7" r="3.3" fill="#4DBBD5"/>
<circle cx="144.2" cy="483.4" r="3.3" fill="#4DBBD5"/>
<circle cx="153.6" cy="492.9" r="3.3" fill="#4DBBD5"/>
<circle cx="151.6" cy="496.9" r="3.3" fill="#4DBBD5"/>
<circle cx="136.1" cy="512.8" r="3.3" fill="#4DBBD5"/>
<g font-family="'DejaVu Serif', serif" font-size="5.2" font-weight="bold" fill="#ff4a4a">
<text x="25.7" y="401.5">hydroxybenzoic</text>
<text x="76.5" y="431.5">ferulic</text>
<text x="100.3" y="426.8">caffeic</text>
<text x="103" y="444.5">TPC</text>
<text x="62.5" y="474.3">coumaric</text>
<text x="70" y="481.3">FFC</text>
<text x="84.5" y="489.5">FPC</text>
<text x="98.5" y="494">syringic</text>
<text x="86" y="524">a</text>
<text x="128.5" y="488.5">b</text>
<text x="127" y="497">YI</text>
<text x="136.5" y="489.3">BPC</text>
<text x="136" y="402.5">BFC</text>
<text x="150.5" y="464.5">WI</text>
<text x="181.5" y="483.5">sinapic</text>
<text x="119" y="451">L</text>
</g>
<g font-family="'DejaVu Serif', serif" font-size="5.6" font-weight="bold" fill="#2626ff">
<text x="88.5" y="452">DPPH</text>
<text x="76.3" y="459.7">ABTS</text>
<text x="89" y="468">OH</text>
<text x="136.5" y="451.5">Fe</text>
</g>
<g font-family="'DejaVu Serif', serif" font-size="5.6" fill="#111">
<text x="84.5" y="424.5">B21</text>
<text x="96.5" y="439">B15</text>
<text x="90.5" y="419">B13</text>
<text x="120.5" y="395">B6</text>
<text x="80" y="480.5">B10</text>
<text x="83" y="491">B12</text>
<text x="91.5" y="501.5">B9</text>
<text x="104" y="506">B8</text>
<text x="107.5" y="497.3">B19</text>
<text x="136.5" y="354.5">W9</text>
<text x="136" y="411">W10</text>
<text x="141.5" y="442.3">W21</text>
<text x="143.7" y="451.2">W19</text>
<text x="140.2" y="471.5">W13</text>
<text x="135.3" y="481.5">W8</text>
<text x="151" y="490.8">W15</text>
<text x="141.5" y="502.2">W12</text>
<text x="127.3" y="519">W6</text>
</g>
<g font-family="'DejaVu Sans', sans-serif" font-size="5.55" fill="#222">
<text x="222.5" y="429.8">Group</text>
<circle cx="226.3" cy="437.1" r="3.3" fill="#E64B35"/><text x="232.8" y="439.1">Brown Rice</text>
<circle cx="226.3" cy="445.2" r="3.3" fill="#4DBBD5"/><text x="232.8" y="447.2">White Rice</text>
</g>
</g>
<g id="net" filter="url(#bl2)">
<path d="M364.9 364.2L398.7 459.4" stroke="#e8d5bc" stroke-width="0.6" fill="none"/>
<path d="M364.9 364.2L416.6 440.9" stroke="#e8d5bc" stroke-width="0.6" fill="none"/>
<path d="M364.9 364.2L389.8 494.4" stroke="#e8d5bc" stroke-width="0.6" fill="none"/>
<path d="M407.8 385.7L416.6 440.9" stroke="#e8d5bc" stroke-width="0.7" fill="none"/>
<path d="M407.8 385.7L398.7 459.4" stroke="#e8d5bc" stroke-width="0.7" fill="none"/>
<path d="M407.8 385.7L425.3 489.3" stroke="#e8d5bc" stroke-width="0.6" fill="none"/>
<path d="M407.8 385.7L449.5 465.9" stroke="#e8d5bc" stroke-width="0.6" fill="none"/>
<path d="M310.7 385.2L305.9 462.4" stroke="#e8d5bc" stroke-width="0.7" fill="none"/>
<path d="M310.7 385.2L314.1 504.3" stroke="#e8d5bc" stroke-width="0.6" fill="none"/>
<path d="M305.9 462.4L360.5 459.5" stroke="#e8d5bc" stroke-width="0.65" fill="none"/>
<path d="M305.9 462.4L398.7 459.4" stroke="#e8d5bc" stroke-width="0.65" fill="none"/>
<path d="M305.9 462.4L352.4 491.1" stroke="#e8d5bc" stroke-width="0.65" fill="none"/>
<path d="M305.9 462.4L414.7 518.5" stroke="#e8d5bc" stroke-width="0.65" fill="none"/>
<path d="M305.9 462.4L349.8 520.3" stroke="#e8d5bc" stroke-width="0.65" fill="none"/>
<path d="M305.9 462.4L380.9 529.4" stroke="#e8d5bc" stroke-width="0.65" fill="none"/>
<path d="M305.9 462.4L449.5 465.9" stroke="#e8d5bc" stroke-width="0.65" fill="none"/>
<path d="M336.2 442.2L398.7 459.4" stroke="#b5dbd6" stroke-width="0.8" fill="none"/>
<path d="M336.2 442.2L416.6 440.9" stroke="#b5dbd6" stroke-width="0.7" fill="none"/>
<path d="M336.2 442.2L425.3 489.3" stroke="#b5dbd6" stroke-width="0.9" fill="none"/>
<path d="M379.3 438L398.7 459.4" stroke="#b5dbd6" stroke-width="0.8" fill="none"/>
<path d="M379.3 438L416.6 440.9" stroke="#b5dbd6" stroke-width="0.7" fill="none"/>
<path d="M379.3 438L389.8 494.4" stroke="#b5dbd6" stroke-width="0.7" fill="none"/>
<path d="M379.3 438L425.3 489.3" stroke="#b5dbd6" stroke-width="0.9" fill="none"/>
<path d="M367.1 407.4L416.6 440.9" stroke="#b5dbd6" stroke-width="0.7" fill="none"/>
<path d="M367.1 407.4L425.3 489.3" stroke="#b5dbd6" stroke-width="0.7" fill="none"/>
<path d="M367.1 407.4L414.7 518.5" stroke="#b5dbd6" stroke-width="0.9" fill="none"/>
<path d="M367.1 407.4L314.1 504.3" stroke="#b5dbd6" stroke-width="1.0" fill="none"/>
<path d="M360.5 459.5L425.3 489.3" stroke="#b5dbd6" stroke-width="0.7" fill="none"/>
<path d="M360.5 459.5L414.7 518.5" stroke="#b5dbd6" stroke-width="0.8" fill="none"/>
<path d="M360.5 459.5L349.8 520.3" stroke="#b5dbd6" stroke-width="0.9" fill="none"/>
<path d="M398.7 459.4L416.6 440.9" stroke="#b5dbd6" stroke-width="1.0" fill="none"/>
<path d="M398.7 459.4L380.9 529.4" stroke="#b5dbd6" stroke-width="1.0" fill="none"/>
<path d="M416.6 440.9L380.9 529.4" stroke="#b5dbd6" stroke-width="1.0" fill="none"/>
<path d="M449.5 465.9L389.8 494.4" stroke="#b5dbd6" stroke-width="0.8" fill="none"/>
<path d="M449.5 465.9L314.1 504.3" stroke="#b5dbd6" stroke-width="0.7" fill="none"/>
<path d="M389.8 494.4L314.1 504.3" stroke="#b5dbd6" stroke-width="0.8" fill="none"/>
<path d="M425.3 489.3L314.1 504.3" stroke="#b5dbd6" stroke-width="0.9" fill="none"/>
<path d="M414.7 518.5L314.1 504.3" stroke="#b5dbd6" stroke-width="1.0" fill="none"/>
<path d="M414.7 518.5L349.8 520.3" stroke="#b5dbd6" stroke-width="1.0" fill="none"/>
<path d="M364.9 364.2L336.2 442.2" stroke="#d6b88f" stroke-width="0.7" fill="none"/>
<path d="M364.9 364.2L367.1 407.4" stroke="#d6b88f" stroke-width="0.7" fill="none"/>
<path d="M364.9 364.2L360.5 459.5" stroke="#d6b88f" stroke-width="0.7" fill="none"/>
<path d="M364.9 364.2L352.4 491.1" stroke="#d6b88f" stroke-width="0.6" fill="none"/>
<path d="M407.8 385.7L470.2 510.0" stroke="#d6b88f" stroke-width="0.7" fill="none"/>
<path d="M407.8 385.7L360.5 459.5" stroke="#d6b88f" stroke-width="0.7" fill="none"/>
<path d="M310.7 385.2L379.3 438" stroke="#7fbdb6" stroke-width="0.7" fill="none"/>
<path d="M310.7 385.2L416.6 440.9" stroke="#7fbdb6" stroke-width="0.7" fill="none"/>
<path d="M310.7 385.2L449.5 465.9" stroke="#7fbdb6" stroke-width="0.7" fill="none"/>
<path d="M310.7 385.2L389.8 494.4" stroke="#7fbdb6" stroke-width="0.7" fill="none"/>
<path d="M310.7 385.2L336.2 442.2" stroke="#7fbdb6" stroke-width="0.7" fill="none"/>
<path d="M305.9 462.4L336.2 442.2" stroke="#d6b88f" stroke-width="0.65" fill="none"/>
<path d="M305.9 462.4L389.8 494.4" stroke="#d6b88f" stroke-width="0.65" fill="none"/>
<path d="M305.9 462.4L425.3 489.3" stroke="#d6b88f" stroke-width="0.65" fill="none"/>
<path d="M305.9 462.4L379.3 438" stroke="#d6b88f" stroke-width="0.65" fill="none"/>
<path d="M305.9 462.4L416.6 440.9" stroke="#d6b88f" stroke-width="0.65" fill="none"/>
<path d="M305.9 462.4L314.1 504.3" stroke="#d6b88f" stroke-width="0.65" fill="none"/>
<path d="M379.3 438L367.1 407.4" stroke="#7fbdb6" stroke-width="1.0" fill="none"/>
<path d="M379.3 438L360.5 459.5" stroke="#7fbdb6" stroke-width="1.0" fill="none"/>
<path d="M379.3 438L414.7 518.5" stroke="#7fbdb6" stroke-width="1.0" fill="none"/>
<path d="M379.3 438L380.9 529.4" stroke="#7fbdb6" stroke-width="1.0" fill="none"/>
<path d="M367.1 407.4L360.5 459.5" stroke="#7fbdb6" stroke-width="0.7" fill="none"/>
<path d="M367.1 407.4L398.7 459.4" stroke="#7fbdb6" stroke-width="1.0" fill="none"/>
<path d="M367.1 407.4L449.5 465.9" stroke="#7fbdb6" stroke-width="1.0" fill="none"/>
<path d="M367.1 407.4L352.4 491.1" stroke="#7fbdb6" stroke-width="0.9" fill="none"/>
<path d="M360.5 459.5L352.4 491.1" stroke="#7fbdb6" stroke-width="1.0" fill="none"/>
<path d="M398.7 459.4L414.7 518.5" stroke="#7fbdb6" stroke-width="0.7" fill="none"/>
<path d="M398.7 459.4L349.8 520.3" stroke="#7fbdb6" stroke-width="0.7" fill="none"/>
<path d="M416.6 440.9L449.5 465.9" stroke="#7fbdb6" stroke-width="0.7" fill="none"/>
<path d="M416.6 440.9L314.1 504.3" stroke="#7fbdb6" stroke-width="0.8" fill="none"/>
<path d="M416.6 440.9L349.8 520.3" stroke="#7fbdb6" stroke-width="0.9" fill="none"/>
<path d="M449.5 465.9L352.4 491.1" stroke="#7fbdb6" stroke-width="1.0" fill="none"/>
<path d="M449.5 465.9L414.7 518.5" stroke="#7fbdb6" stroke-width="1.0" fill="none"/>
<path d="M352.4 491.1L389.8 494.4" stroke="#7fbdb6" stroke-width="0.7" fill="none"/>
<path d="M352.4 491.1L425.3 489.3" stroke="#7fbdb6" stroke-width="0.9" fill="none"/>
<path d="M352.4 491.1L314.1 504.3" stroke="#7fbdb6" stroke-width="0.8" fill="none"/>
<path d="M389.8 494.4L349.8 520.3" stroke="#7fbdb6" stroke-width="0.7" fill="none"/>
<path d="M425.3 489.3L380.9 529.4" stroke="#7fbdb6" stroke-width="0.7" fill="none"/>
<path d="M310.7 385.2L407.8 385.7" stroke="#c39c68" stroke-width="0.9" fill="none"/>
<path d="M407.8 385.7L336.2 442.2" stroke="#c39c68" stroke-width="0.8" fill="none"/>
<path d="M310.7 385.2L367.1 407.4" stroke="#4a9c94" stroke-width="0.7" fill="none"/>
<path d="M310.7 385.2L360.5 459.5" stroke="#4a9c94" stroke-width="0.7" fill="none"/>
<path d="M310.7 385.2L398.7 459.4" stroke="#4a9c94" stroke-width="0.7" fill="none"/>
<path d="M310.7 385.2L352.4 491.1" stroke="#4a9c94" stroke-width="0.7" fill="none"/>
<path d="M310.7 385.2L425.3 489.3" stroke="#4a9c94" stroke-width="0.7" fill="none"/>
<path d="M310.7 385.2L414.7 518.5" stroke="#4a9c94" stroke-width="0.7" fill="none"/>
<path d="M470.2 510.0L398.7 459.4" stroke="#c39c68" stroke-width="0.9" fill="none"/>
<path d="M470.2 510.0L416.6 440.9" stroke="#c39c68" stroke-width="0.7" fill="none"/>
<path d="M470.2 510.0L389.8 494.4" stroke="#c39c68" stroke-width="0.9" fill="none"/>
<path d="M470.2 510.0L352.4 491.1" stroke="#c39c68" stroke-width="0.7" fill="none"/>
<path d="M470.2 510.0L360.5 459.5" stroke="#c39c68" stroke-width="0.7" fill="none"/>
<path d="M336.2 442.2L379.3 438" stroke="#4a9c94" stroke-width="0.9" fill="none"/>
<path d="M336.2 442.2L349.8 520.3" stroke="#4a9c94" stroke-width="0.9" fill="none"/>
<path d="M360.5 459.5L398.7 459.4" stroke="#4a9c94" stroke-width="1.0" fill="none"/>
<path d="M414.7 518.5L389.8 494.4" stroke="#4a9c94" stroke-width="1.0" fill="none"/>
<path d="M336.2 442.2L449.5 465.9" stroke="#4a9c94" stroke-width="0.8" fill="none"/>
<path d="M336.2 442.2L314.1 504.3" stroke="#4a9c94" stroke-width="0.7" fill="none"/>
<path d="M379.3 438L449.5 465.9" stroke="#4a9c94" stroke-width="1.0" fill="none"/>
<path d="M379.3 438L352.4 491.1" stroke="#4a9c94" stroke-width="1.0" fill="none"/>
<path d="M360.5 459.5L416.6 440.9" stroke="#4a9c94" stroke-width="0.9" fill="none"/>
<path d="M360.5 459.5L389.8 494.4" stroke="#4a9c94" stroke-width="1.0" fill="none"/>
<path d="M398.7 459.4L449.5 465.9" stroke="#4a9c94" stroke-width="0.9" fill="none"/>
<path d="M398.7 459.4L389.8 494.4" stroke="#4a9c94" stroke-width="0.7" fill="none"/>
<path d="M416.6 440.9L389.8 494.4" stroke="#4a9c94" stroke-width="0.7" fill="none"/>
<path d="M416.6 440.9L425.3 489.3" stroke="#4a9c94" stroke-width="0.7" fill="none"/>
<path d="M449.5 465.9L349.8 520.3" stroke="#4a9c94" stroke-width="0.9" fill="none"/>
<path d="M449.5 465.9L380.9 529.4" stroke="#4a9c94" stroke-width="0.7" fill="none"/>
<path d="M352.4 491.1L380.9 529.4" stroke="#4a9c94" stroke-width="0.8" fill="none"/>
<path d="M425.3 489.3L349.8 520.3" stroke="#4a9c94" stroke-width="0.9" fill="none"/>
<path d="M414.7 518.5L380.9 529.4" stroke="#4a9c94" stroke-width="0.7" fill="none"/>
<path d="M364.9 364.2L310.7 385.2" stroke="#a5723a" stroke-width="1.1" fill="none"/>
<path d="M364.9 364.2L407.8 385.7" stroke="#1d7c74" stroke-width="1.3" fill="none"/>
<path d="M364.9 364.2L379.3 438" stroke="#a5723a" stroke-width="1.2" fill="none"/>
<path d="M407.8 385.7L379.3 438" stroke="#a5723a" stroke-width="1.2" fill="none"/>
<path d="M407.8 385.7L367.1 407.4" stroke="#a5723a" stroke-width="0.9" fill="none"/>
<path d="M367.1 407.4L336.2 442.2" stroke="#a5723a" stroke-width="0.9" fill="none"/>
<path d="M470.2 510.0L449.5 465.9" stroke="#a5723a" stroke-width="0.7" fill="none"/>
<path d="M470.2 510.0L425.3 489.3" stroke="#a5723a" stroke-width="0.9" fill="none"/>
<path d="M470.2 510.0L414.7 518.5" stroke="#a5723a" stroke-width="0.9" fill="none"/>
<path d="M470.2 510.0L380.9 529.4" stroke="#a5723a" stroke-width="0.7" fill="none"/>
<path d="M470.2 510.0L349.8 520.3" stroke="#a5723a" stroke-width="0.7" fill="none"/>
<path d="M314.1 504.3L398.7 459.4" stroke="#1d7c74" stroke-width="1.1" fill="none"/>
<path d="M336.2 442.2L360.5 459.5" stroke="#1d7c74" stroke-width="1.0" fill="none"/>
<path d="M314.1 504.3L349.8 520.3" stroke="#1d7c74" stroke-width="1.4" fill="none"/>
<path d="M349.8 520.3L380.9 529.4" stroke="#1d7c74" stroke-width="1.4" fill="none"/>
<path d="M314.1 504.3L380.9 529.4" stroke="#1d7c74" stroke-width="1.0" fill="none"/>
<path d="M336.2 442.2L352.4 491.1" stroke="#1d7c74" stroke-width="1.1" fill="none"/>
<path d="M336.2 442.2L380.9 529.4" stroke="#1d7c74" stroke-width="1.0" fill="none"/>
<path d="M360.5 459.5L380.9 529.4" stroke="#1d7c74" stroke-width="1.1" fill="none"/>
<path d="M352.4 491.1L398.7 459.4" stroke="#1d7c74" stroke-width="1.2" fill="none"/>
<path d="M414.7 518.5L425.3 489.3" stroke="#1d7c74" stroke-width="1.2" fill="none"/>
<path d="M352.4 491.1L414.7 518.5" stroke="#1d7c74" stroke-width="1.1" fill="none"/>
<path d="M379.3 438L349.8 520.3" stroke="#1d7c74" stroke-width="0.9" fill="none"/>
<path d="M367.1 407.4L349.8 520.3" stroke="#1d7c74" stroke-width="1.0" fill="none"/>
<path d="M360.5 459.5L449.5 465.9" stroke="#1d7c74" stroke-width="1.0" fill="none"/>
<path d="M398.7 459.4L425.3 489.3" stroke="#1d7c74" stroke-width="1.0" fill="none"/>
<path d="M352.4 491.1L349.8 520.3" stroke="#1d7c74" stroke-width="0.9" fill="none"/>
<path d="M389.8 494.4L425.3 489.3" stroke="#1d7c74" stroke-width="1.0" fill="none"/>
<path d="M389.8 494.4L380.9 529.4" stroke="#1d7c74" stroke-width="0.9" fill="none"/>
<circle cx="364.9" cy="364.2" r="8.5" fill="#E64B35"/>
<path d="M364.9 364.2L364.9 355.7A8.5 8.5 0 0 1 364.90 372.70Z" fill="#4DBBD5"/>
<circle cx="310.7" cy="385.2" r="7" fill="#E64B35"/>
<path d="M310.7 385.2L310.7 378.2A7 7 0 0 1 317.36 387.36Z" fill="#4DBBD5"/>
<circle cx="407.8" cy="385.7" r="8.2" fill="#E64B35"/>
<path d="M407.8 385.7L407.8 377.5A8.2 8.2 0 0 1 407.80 393.90Z" fill="#4DBBD5"/>
<circle cx="367.1" cy="407.4" r="4.7" fill="#E64B35"/>
<path d="M367.1 407.4L367.1 402.7A4.7 4.7 0 0 1 371.80 407.40Z" fill="#4DBBD5"/>
<circle cx="336.2" cy="442.2" r="7.5" fill="#E64B35"/>
<path d="M336.2 442.2L336.2 434.7A7.5 7.5 0 0 1 338.52 449.33Z" fill="#4DBBD5"/>
<circle cx="379.3" cy="438" r="8" fill="#E64B35"/>
<path d="M379.3 438L379.3 430A8 8 0 0 1 384.00 444.47Z" fill="#4DBBD5"/>
<circle cx="416.6" cy="440.9" r="9" fill="#E64B35"/>
<path d="M416.6 440.9L416.6 431.9A9 9 0 0 1 425.16 443.68Z" fill="#4DBBD5"/>
<circle cx="305.9" cy="462.4" r="6.1" fill="#E64B35"/>
<path d="M305.9 462.4L305.9 456.29999999999995A6.1 6.1 0 1 1 300.75 465.67Z" fill="#4DBBD5"/>
<circle cx="360.5" cy="459.5" r="6.8" fill="#E64B35"/>
<path d="M360.5 459.5L360.5 452.7A6.8 6.8 0 0 1 365.46 454.85Z" fill="#4DBBD5"/>
<circle cx="398.7" cy="459.4" r="9.4" fill="#E64B35"/>
<path d="M398.7 459.4L398.7 450.0A9.4 9.4 0 0 1 404.23 467.00Z" fill="#4DBBD5"/>
<circle cx="449.5" cy="465.9" r="9.5" fill="#E64B35"/>
<path d="M449.5 465.9L449.5 456.4A9.5 9.5 0 0 1 455.08 473.59Z" fill="#4DBBD5"/>
<circle cx="352.4" cy="491.1" r="8.7" fill="#E64B35"/>
<path d="M352.4 491.1L352.4 482.40000000000003A8.7 8.7 0 0 1 361.08 491.65Z" fill="#4DBBD5"/>
<circle cx="389.8" cy="494.4" r="7.7" fill="#E64B35"/>
<path d="M389.8 494.4L389.8 486.7A7.7 7.7 0 0 1 392.18 501.72Z" fill="#4DBBD5"/>
<circle cx="425.3" cy="489.3" r="8.0" fill="#E64B35"/>
<path d="M425.3 489.3L425.3 481.3A8.0 8.0 0 0 1 432.91 491.77Z" fill="#4DBBD5"/>
<circle cx="314.1" cy="504.3" r="6.4" fill="#E64B35"/>
<path d="M314.1 504.3L314.1 497.90000000000003A6.4 6.4 0 0 1 320.45 505.10Z" fill="#4DBBD5"/>
<circle cx="349.8" cy="520.3" r="7.1" fill="#E64B35"/>
<path d="M349.8 520.3L349.8 513.1999999999999A7.1 7.1 0 0 1 356.02 523.72Z" fill="#4DBBD5"/>
<circle cx="380.9" cy="529.4" r="7.1" fill="#E64B35"/>
<path d="M380.9 529.4L380.9 522.3A7.1 7.1 0 0 1 387.50 532.01Z" fill="#4DBBD5"/>
<circle cx="414.7" cy="518.5" r="8.6" fill="#E64B35"/>
<path d="M414.7 518.5L414.7 509.9A8.6 8.6 0 0 1 422.88 521.16Z" fill="#4DBBD5"/>
<circle cx="470.2" cy="510.0" r="6.9" fill="#E64B35"/>
<path d="M470.2 510.0L470.2 503.1A6.9 6.9 0 1 1 464.15 513.32Z" fill="#4DBBD5"/>
<g font-family="'DejaVu Serif', serif" font-size="5.4" fill="#1a1a1a" text-anchor="middle">
<text x="364.9" y="366.1">L</text>
<text x="310.7" y="387.1">syringic</text>
<text x="407.8" y="387.6">WI</text>
<text x="367.1" y="409.3">a</text>
<text x="336.2" y="444.1">b</text>
<text x="379.3" y="439.9">YI</text>
<text x="416.6" y="442.8">FFC</text>
<text x="305.9" y="464.3">Fe</text>
<text x="360.5" y="461.4">hydroxybenzoic</text>
<text x="398.7" y="461.3">TFC</text>
<text x="449.5" y="467.8">TPC</text>
<text x="352.4" y="493.0">FPC</text>
<text x="389.8" y="496.3">OH</text>
<text x="425.3" y="491.2">DPPH</text>
<text x="314.1" y="506.2">coumaric</text>
<text x="349.8" y="522.2">caffeic</text>
<text x="380.9" y="531.3">ferulic</text>
<text x="414.7" y="520.4">ABTS</text>
<text x="470.2" y="511.9">sinapic</text>
</g>
<g font-family="'DejaVu Sans', sans-serif" font-size="6.18" fill="#111">
<circle cx="474.9" cy="354.2" r="1.3" fill="#E64B35"/><text x="480.6" y="356.4">Brown Rice</text>
<circle cx="474.9" cy="361.9" r="1.3" fill="#4DBBD5"/><text x="480.6" y="364.1">White Rice</text>
<path d="M496 487.20h2.8" stroke="#a5723a" stroke-width="1.1"/><text x="514.8" y="489.50" text-anchor="end" font-size="6.3">-1.0</text>
<path d="M496 494.65h2.8" stroke="#c39c68" stroke-width="1.1"/><text x="514.8" y="496.95" text-anchor="end" font-size="6.3">-0.9</text>
<path d="M496 502.10h2.8" stroke="#d6b88f" stroke-width="1.1"/><text x="514.8" y="504.40" text-anchor="end" font-size="6.3">-0.8</text>
<path d="M496 509.55h2.8" stroke="#e8d5bc" stroke-width="1.1"/><text x="514.8" y="511.85" text-anchor="end" font-size="6.3">-0.7</text>
<path d="M496 517.00h2.8" stroke="#b5dbd6" stroke-width="1.1"/><text x="514.8" y="519.30" text-anchor="end" font-size="6.3">0.7</text>
<path d="M496 524.45h2.8" stroke="#7fbdb6" stroke-width="1.1"/><text x="514.8" y="526.75" text-anchor="end" font-size="6.3">0.8</text>
<path d="M496 531.90h2.8" stroke="#4a9c94" stroke-width="1.1"/><text x="514.8" y="534.20" text-anchor="end" font-size="6.3">0.9</text>
<path d="M496 539.35h2.8" stroke="#1d7c74" stroke-width="1.1"/><text x="514.8" y="541.65" text-anchor="end" font-size="6.3">1.0</text>
</g>
</g>
</svg>
</body></html>
